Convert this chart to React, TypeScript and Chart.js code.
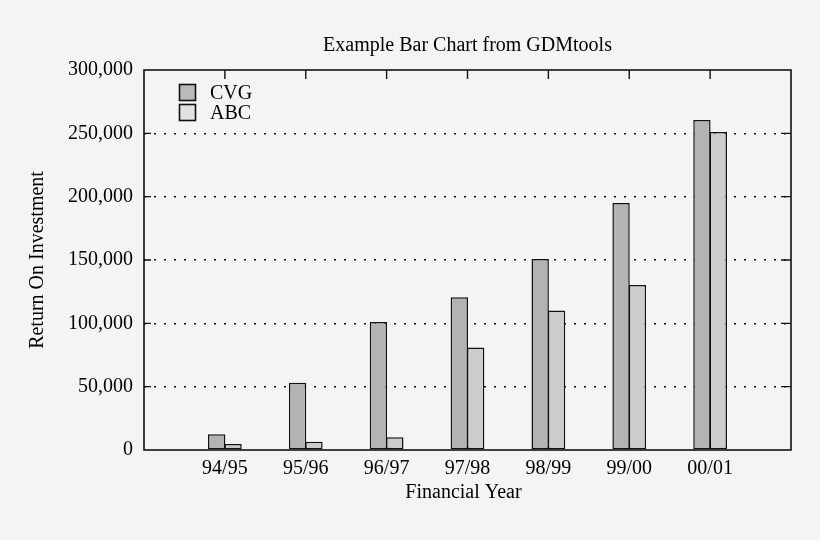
import React, { useEffect, useRef } from "react";
import { Chart, registerables } from "chart.js";

Chart.register(...registerables);

const categories = ["", "94/95", "95/96", "96/97", "97/98", "98/99", "99/00", "00/01", ""];
const cvgValues = [null, 12500, 53000, 101000, 120500, 150800, 195000, 260500, null];
const abcValues = [null, 4800, 6500, 10000, 81000, 110200, 130300, 251000, null];
const yTicks = [0, 50000, 100000, 150000, 200000, 250000, 300000];
const seriesNames = ["CVG", "ABC"];
const barColors = ["#b3b3b3", "#cccccc"];
const legendColors = ["#bbbbbb", "#e2e2e2"];
const titleText = "Example Bar Chart from GDMtools";
const xTitle = "Financial Year";
const yTitle = "Return On Investment";

const FONT = "'Liberation Serif', 'DejaVu Serif', serif";
const FS = 20;
const BG = "#f4f4f4";

const fmt = (v: number) => String(v).replace(/\B(?=(\d{3})+(?!\d))/g, ",");

const framePlugin = {
  id: "framePlugin",
  beforeDraw(chart: any) {
    const { ctx, width, height } = chart;
    ctx.save();
    ctx.fillStyle = BG;
    ctx.fillRect(0, 0, width, height);
    ctx.restore();
  },
  afterDraw(chart: any) {
    const { ctx, chartArea } = chart;
    const { left, right, top, bottom } = chartArea;
    const xs = chart.scales.x;
    const ys = chart.scales.y;
    ctx.save();
    ctx.strokeStyle = "#111";
    ctx.lineWidth = 1.6;
    ctx.strokeRect(left, top, right - left, bottom - top);
    ctx.lineWidth = 1.4;
    ctx.beginPath();
    categories.forEach((c, i) => {
      if (!c) return;
      const x = xs.getPixelForValue(i);
      ctx.moveTo(x, top);
      ctx.lineTo(x, top + 9);
    });
    yTicks.forEach((v) => {
      if (v === 0 || v === 300000) return;
      const y = ys.getPixelForValue(v);
      ctx.moveTo(left, y);
      ctx.lineTo(left + 7, y);
      ctx.moveTo(right - 10, y);
      ctx.lineTo(right, y);
    });
    ctx.stroke();

    ctx.fillStyle = "#000";
    ctx.font = `${FS}px ${FONT}`;
    ctx.textAlign = "center";
    ctx.textBaseline = "middle";
    ctx.fillText(titleText, (left + right) / 2, 46);
    ctx.fillText(xTitle, (left + right) / 2 - 4, 493);
    ctx.save();
    ctx.translate(38, (top + bottom) / 2);
    ctx.rotate(-Math.PI / 2);
    ctx.fillText(yTitle, 0, 0);
    ctx.restore();

    seriesNames.forEach((name, i) => {
      const bx = 179.5;
      const by = 84.5 + i * 20;
      ctx.fillStyle = legendColors[i];
      ctx.fillRect(bx, by, 16, 16);
      ctx.strokeStyle = "#111";
      ctx.lineWidth = 1.6;
      ctx.strokeRect(bx, by, 16, 16);
      ctx.fillStyle = "#000";
      ctx.textAlign = "left";
      ctx.fillText(name, 210, by + 9);
    });
    ctx.restore();
  },
};

export default function App() {
  const ref = useRef<HTMLCanvasElement | null>(null);
  useEffect(() => {
    if (!ref.current) return;
    const chart = new Chart(ref.current, {
      type: "bar",
      data: {
        labels: categories,
        datasets: seriesNames.map((name, i) => ({
          label: name,
          data: i === 0 ? cvgValues : abcValues,
          backgroundColor: barColors[i],
          borderColor: "#111",
          borderWidth: 1.5,
          borderSkipped: false,
          categoryPercentage: 0.405,
          barPercentage: 1.06,
        })),
      },
      options: {
        responsive: false,
        animation: false,
        devicePixelRatio: 1,
        layout: { padding: { top: 70, right: 29, bottom: 0, left: 0 } },
        plugins: {
          legend: { display: false },
          title: { display: false },
          tooltip: { enabled: false },
        },
        scales: {
          x: {
            type: "category",
            offset: false,
            grid: { display: false, drawTicks: false },
            border: { display: false },
            ticks: {
              autoSkip: false,
              maxRotation: 0,
              padding: 7,
              color: "#000",
              font: { family: FONT, size: FS },
            },
            afterFit: (s: any) => {
              s.height = 90;
            },
          },
          y: {
            min: 0,
            max: 300000,
            afterBuildTicks: (s: any) => {
              s.ticks = yTicks.map((v) => ({ value: v }));
            },
            grid: {
              drawTicks: false,
              color: (c: any) =>
                c.tick && (c.tick.value === 0 || c.tick.value === 300000) ? "rgba(0,0,0,0)" : "#111",
              lineWidth: 1.6,
            },
            border: { display: false, dash: [2, 8] },
            ticks: {
              padding: 11,
              color: "#000",
              font: { family: FONT, size: FS },
              callback: (v: any) => fmt(Number(v)),
            },
            afterFit: (s: any) => {
              s.width = 144;
            },
          },
        },
      },
      plugins: [framePlugin],
    } as any);
    return () => chart.destroy();
  }, []);
  return (
    <div style={{ position: "fixed", left: 0, top: 0, width: 820, height: 540, background: BG }}>
      <canvas ref={ref} width={820} height={540} style={{ width: 820, height: 540, display: "block" }} />
    </div>
  );
}
